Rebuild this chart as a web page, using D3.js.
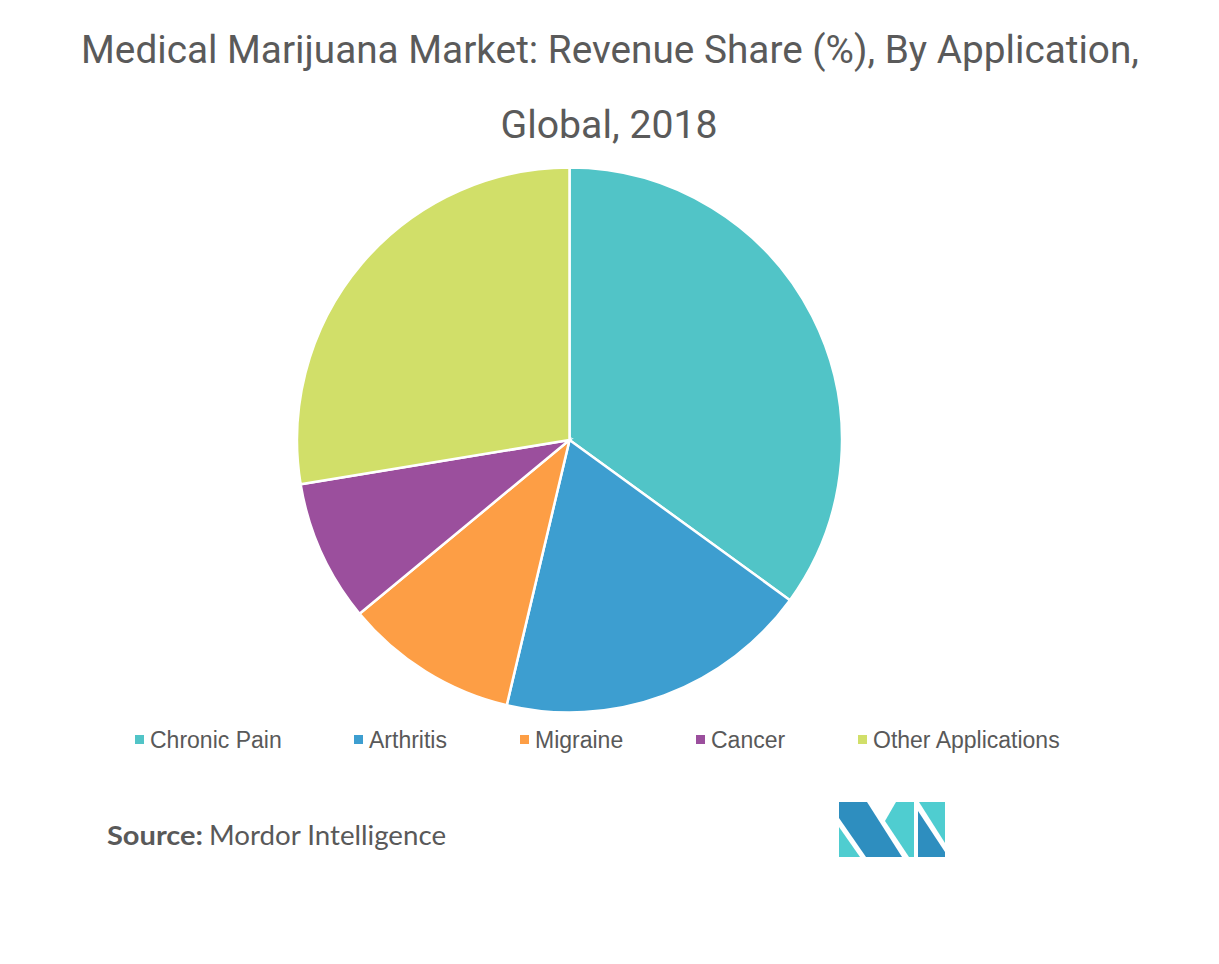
<!DOCTYPE html>
<html><head><meta charset="utf-8">
<script src="https://cdn.jsdelivr.net/npm/d3@7"></script>
<style>body{margin:0;background:#fff}svg{display:block}</style>
</head><body>
<script>
const categories = ["Chronic Pain","Arthritis","Migraine","Cancer","Other Applications"];
const values = [35.0, 18.7, 10.3, 8.4, 27.6];
const colors = ["#51C4C7","#3D9ED0","#FD9E45","#9B4F9D","#D1DF69"];
const titleLines = ["Medical Marijuana Market: Revenue Share (%), By Application,","Global, 2018"];

const W=1219,H=964;
const svg=d3.select("body").append("svg").attr("width",W).attr("height",H);
svg.append("rect").attr("width",W).attr("height",H).attr("fill","#fff");

// title
svg.append("text").attr("x",610).attr("y",63).attr("text-anchor","middle")
  .attr("font-family","Roboto").attr("font-size",39).attr("fill","#5a5a5a")
  .attr("textLength",1058).attr("lengthAdjust","spacingAndGlyphs").text(titleLines[0]);
svg.append("text").attr("x",609).attr("y",138).attr("text-anchor","middle")
  .attr("font-family","Roboto").attr("font-size",39).attr("fill","#5a5a5a")
  .attr("textLength",217).attr("lengthAdjust","spacingAndGlyphs").text(titleLines[1]);

// pie
const cx=569.5,cy=440,R=272.5;
const pie=d3.pie().sort(null).value(d=>d)(values);
const arc=d3.arc().innerRadius(0).outerRadius(R);
const g=svg.append("g").attr("transform",`translate(${cx},${cy})`);
g.selectAll("path").data(pie).join("path").attr("d",arc)
  .attr("fill",(d,i)=>colors[i]).attr("stroke","#fff").attr("stroke-width",2.5);

// legend
const legX=[135,354,520,696,858];
const lg=svg.append("g");
categories.forEach((c,i)=>{
  lg.append("rect").attr("x",legX[i]).attr("y",735).attr("width",9).attr("height",9).attr("fill",colors[i]);
  lg.append("text").attr("x",legX[i]+15).attr("y",748).attr("font-family","Liberation Sans, Arial")
    .attr("font-size",23).attr("fill","#595959").text(c);
});

// source
svg.append("text").attr("x",107).attr("y",845).attr("font-family","Lato").attr("font-weight","bold")
  .attr("font-size",26).attr("fill","#595959").attr("textLength",96).attr("lengthAdjust","spacingAndGlyphs").text("Source:");
svg.append("text").attr("x",209).attr("y",845).attr("font-family","Lato")
  .attr("font-size",26).attr("fill","#595959").attr("textLength",237).attr("lengthAdjust","spacingAndGlyphs").text("Mordor Intelligence");

// logo
const dark="#2E8EBF",teal="#4FCDD0";
const logo=[
 {c:dark,p:[[839,802],[867,802],[902,857],[866,857],[839,818]]},
 {c:teal,p:[[839,827],[839,857],[860,857]]},
 {c:teal,p:[[896,802],[914,802],[914,857],[909,857],[885,821]]},
 {c:teal,p:[[919,802],[945,802],[945,843]]},
 {c:dark,p:[[918,811],[945,852],[945,857],[918,857]]}
];
svg.append("g").selectAll("polygon").data(logo).join("polygon")
  .attr("points",d=>d.p.map(q=>q.join(",")).join(" ")).attr("fill",d=>d.c);
</script>
</body></html>
